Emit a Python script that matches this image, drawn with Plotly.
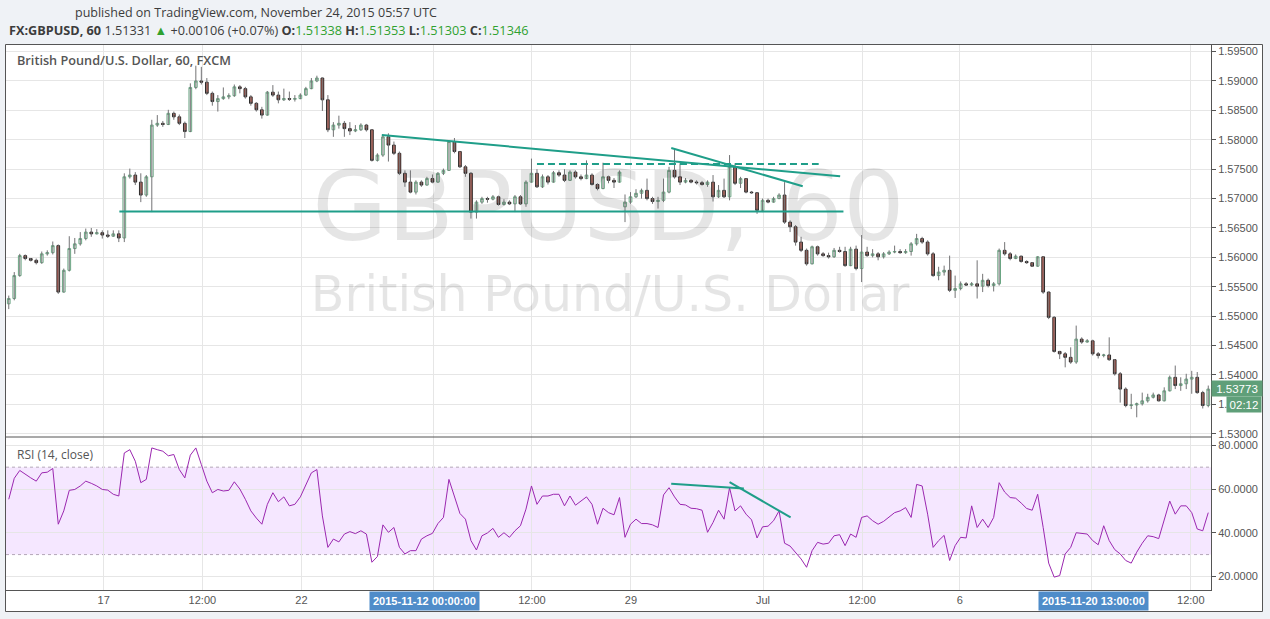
import plotly.graph_objects as go

# ---------------- data (2-hour bars) ----------------
open_px = [1.5521,1.5530,1.5569,1.5603,1.5598,1.5595,1.5591,1.5606,1.5608,1.5620,
1.5541,1.5578,1.5615,1.5623,1.5632,1.5643,1.5640,1.5642,1.5638,1.5636,
1.5640,1.5633,1.5737,1.5740,1.5728,1.5706,1.5737,1.5825,1.5828,1.5826,
1.5845,1.5839,1.5828,1.5814,1.5889,1.5900,1.5898,1.5879,1.5865,1.5870,
1.5873,1.5875,1.5890,1.5887,1.5873,1.5862,1.5851,1.5842,1.5881,1.5876,
1.5868,1.5870,1.5869,1.5870,1.5876,1.5887,1.5900,1.5905,1.5868,1.5817,
1.5825,1.5828,1.5819,1.5815,1.5817,1.5825,1.5817,1.5765,1.5774,1.5805,
1.5791,1.5777,1.5743,1.5728,1.5711,1.5728,1.5723,1.5734,1.5728,1.5743,
1.5748,1.5797,1.5780,1.5754,1.5743,1.5677,1.5694,1.5700,1.5699,1.5703,
1.5690,1.5694,1.5691,1.5703,1.5691,1.5728,1.5743,1.5720,1.5737,1.5728,
1.5744,1.5740,1.5731,1.5745,1.5737,1.5734,1.5740,1.5724,1.5717,1.5737,
1.5731,1.5728,1.5686,1.5694,1.5703,1.5709,1.5714,1.5700,1.5695,1.5697,
1.5711,1.5748,1.5737,1.5728,1.5731,1.5728,1.5727,1.5724,1.5728,1.5703,
1.5714,1.5703,1.5754,1.5726,1.5734,1.5711,1.5710,1.5680,1.5697,1.5694,
1.5700,1.5706,1.5660,1.5652,1.5626,1.5612,1.5589,1.5618,1.5606,1.5603,
1.5601,1.5612,1.5610,1.5586,1.5614,1.5581,1.5609,1.5603,1.5606,1.5601,
1.5606,1.5609,1.5610,1.5608,1.5610,1.5623,1.5632,1.5626,1.5606,1.5569,
1.5575,1.5578,1.5544,1.5547,1.5555,1.5553,1.5555,1.5551,1.5561,1.5552,
1.5555,1.5612,1.5606,1.5598,1.5602,1.5593,1.5591,1.5585,1.5601,1.5541,
1.5498,1.5440,1.5436,1.5430,1.5422,1.5461,1.5456,1.5458,1.5436,1.5433,
1.5434,1.5426,1.5402,1.5376,1.5348,1.5349,1.5351,1.5356,1.5362,1.5366,
1.5356,1.5373,1.5396,1.5382,1.5385,1.5393,1.5396,1.5370,1.5348]

high_px = [1.5535,1.5575,1.5606,1.5605,1.5599,1.5598,1.5610,1.5612,1.5627,1.5622,
1.5581,1.5636,1.5633,1.5643,1.5649,1.5650,1.5648,1.5646,1.5646,1.5646,
1.5646,1.5743,1.5751,1.5745,1.5743,1.5740,1.5834,1.5842,1.5832,1.5851,
1.5848,1.5843,1.5831,1.5896,1.5926,1.5924,1.5905,1.5882,1.5876,1.5889,
1.5879,1.5894,1.5893,1.5890,1.5876,1.5864,1.5856,1.5883,1.5893,1.5882,
1.5887,1.5882,1.5876,1.5879,1.5890,1.5905,1.5909,1.5906,1.5876,1.5830,
1.5841,1.5832,1.5830,1.5825,1.5828,1.5827,1.5818,1.5777,1.5809,1.5811,
1.5797,1.5780,1.5748,1.5748,1.5731,1.5731,1.5737,1.5741,1.5745,1.5751,
1.5799,1.5803,1.5781,1.5757,1.5745,1.5697,1.5703,1.5703,1.5706,1.5705,
1.5699,1.5697,1.5706,1.5706,1.5731,1.5768,1.5750,1.5741,1.5740,1.5747,
1.5748,1.5750,1.5748,1.5748,1.5741,1.5765,1.5743,1.5726,1.5761,1.5739,
1.5735,1.5748,1.5707,1.5711,1.5716,1.5717,1.5734,1.5703,1.5703,1.5734,
1.5754,1.5785,1.5760,1.5735,1.5733,1.5731,1.5730,1.5731,1.5740,1.5723,
1.5734,1.5774,1.5760,1.5737,1.5735,1.5713,1.5711,1.5700,1.5700,1.5703,
1.5709,1.5728,1.5663,1.5655,1.5635,1.5615,1.5620,1.5620,1.5609,1.5608,
1.5616,1.5618,1.5618,1.5618,1.5620,1.5638,1.5618,1.5614,1.5609,1.5609,
1.5612,1.5620,1.5614,1.5614,1.5626,1.5640,1.5635,1.5629,1.5609,1.5584,
1.5586,1.5603,1.5569,1.5559,1.5558,1.5558,1.5595,1.5572,1.5564,1.5558,
1.5615,1.5626,1.5609,1.5605,1.5603,1.5595,1.5592,1.5602,1.5602,1.5542,
1.5500,1.5441,1.5439,1.5447,1.5484,1.5464,1.5461,1.5460,1.5439,1.5436,
1.5464,1.5427,1.5405,1.5379,1.5368,1.5353,1.5370,1.5368,1.5370,1.5368,
1.5379,1.5399,1.5416,1.5396,1.5402,1.5407,1.5405,1.5373,1.5382]

low_px = [1.5512,1.5527,1.5567,1.5595,1.5593,1.5588,1.5589,1.5603,1.5605,1.5538,
1.5540,1.5576,1.5606,1.5620,1.5629,1.5635,1.5639,1.5632,1.5633,1.5635,
1.5626,1.5626,1.5734,1.5723,1.5694,1.5703,1.5677,1.5822,1.5822,1.5825,
1.5834,1.5825,1.5803,1.5813,1.5886,1.5894,1.5876,1.5858,1.5848,1.5868,
1.5869,1.5873,1.5879,1.5870,1.5858,1.5848,1.5836,1.5841,1.5873,1.5862,
1.5866,1.5866,1.5865,1.5869,1.5875,1.5886,1.5898,1.5849,1.5813,1.5805,
1.5819,1.5805,1.5808,1.5813,1.5815,1.5814,1.5763,1.5763,1.5771,1.5763,
1.5774,1.5740,1.5720,1.5709,1.5707,1.5720,1.5722,1.5726,1.5727,1.5740,
1.5747,1.5777,1.5752,1.5737,1.5666,1.5666,1.5691,1.5693,1.5697,1.5688,
1.5688,1.5689,1.5677,1.5689,1.5686,1.5727,1.5718,1.5718,1.5724,1.5727,
1.5737,1.5728,1.5730,1.5734,1.5731,1.5733,1.5722,1.5714,1.5716,1.5726,
1.5718,1.5727,1.5660,1.5691,1.5701,1.5700,1.5697,1.5691,1.5683,1.5694,
1.5709,1.5734,1.5723,1.5726,1.5726,1.5724,1.5722,1.5720,1.5695,1.5701,
1.5701,1.5697,1.5723,1.5718,1.5709,1.5708,1.5674,1.5677,1.5692,1.5693,
1.5699,1.5657,1.5643,1.5620,1.5609,1.5586,1.5588,1.5603,1.5601,1.5598,
1.5599,1.5608,1.5584,1.5585,1.5578,1.5558,1.5601,1.5600,1.5595,1.5598,
1.5604,1.5607,1.5606,1.5606,1.5603,1.5620,1.5623,1.5603,1.5567,1.5561,
1.5569,1.5541,1.5531,1.5544,1.5552,1.5551,1.5530,1.5541,1.5549,1.5542,
1.5552,1.5603,1.5595,1.5597,1.5591,1.5589,1.5584,1.5584,1.5538,1.5495,
1.5438,1.5427,1.5413,1.5419,1.5419,1.5453,1.5455,1.5433,1.5428,1.5430,
1.5424,1.5399,1.5353,1.5345,1.5342,1.5328,1.5348,1.5353,1.5360,1.5355,
1.5355,1.5372,1.5376,1.5373,1.5376,1.5368,1.5368,1.5343,1.5345]

close_px = [1.5530,1.5569,1.5603,1.5598,1.5595,1.5591,1.5606,1.5608,1.5620,1.5541,
1.5578,1.5615,1.5623,1.5632,1.5643,1.5640,1.5642,1.5638,1.5636,1.5640,
1.5633,1.5737,1.5740,1.5728,1.5706,1.5737,1.5825,1.5828,1.5826,1.5845,
1.5839,1.5828,1.5814,1.5889,1.5900,1.5898,1.5879,1.5865,1.5870,1.5873,
1.5875,1.5890,1.5887,1.5873,1.5862,1.5851,1.5842,1.5881,1.5876,1.5868,
1.5870,1.5869,1.5870,1.5876,1.5887,1.5900,1.5905,1.5868,1.5817,1.5825,
1.5828,1.5819,1.5815,1.5817,1.5825,1.5817,1.5765,1.5774,1.5805,1.5791,
1.5777,1.5743,1.5728,1.5711,1.5728,1.5723,1.5734,1.5728,1.5743,1.5748,
1.5797,1.5780,1.5754,1.5743,1.5677,1.5694,1.5700,1.5699,1.5703,1.5690,
1.5694,1.5691,1.5703,1.5691,1.5728,1.5743,1.5720,1.5737,1.5728,1.5744,
1.5740,1.5731,1.5745,1.5737,1.5734,1.5740,1.5724,1.5717,1.5737,1.5731,
1.5728,1.5745,1.5694,1.5703,1.5709,1.5714,1.5700,1.5695,1.5697,1.5711,
1.5748,1.5737,1.5728,1.5731,1.5728,1.5727,1.5724,1.5728,1.5703,1.5714,
1.5703,1.5754,1.5726,1.5734,1.5711,1.5710,1.5680,1.5697,1.5694,1.5700,
1.5706,1.5660,1.5652,1.5626,1.5612,1.5589,1.5618,1.5606,1.5603,1.5601,
1.5612,1.5610,1.5586,1.5614,1.5581,1.5609,1.5603,1.5606,1.5601,1.5606,
1.5609,1.5610,1.5608,1.5610,1.5623,1.5632,1.5626,1.5606,1.5569,1.5575,
1.5578,1.5544,1.5547,1.5555,1.5553,1.5555,1.5551,1.5561,1.5552,1.5555,
1.5612,1.5606,1.5598,1.5602,1.5593,1.5591,1.5585,1.5601,1.5541,1.5498,
1.5440,1.5436,1.5430,1.5422,1.5461,1.5456,1.5458,1.5436,1.5433,1.5434,
1.5426,1.5402,1.5376,1.5348,1.5349,1.5351,1.5356,1.5362,1.5366,1.5356,
1.5373,1.5396,1.5382,1.5385,1.5393,1.5396,1.5370,1.5348,1.5376]

rsi_vals = [55.3,64.9,68.5,66.7,65.1,63.6,67.4,67.7,69.4,43.9,
50.0,59.4,59.8,61.4,63.6,62.6,61.4,59.8,59.5,57.6,
56.8,76.5,78.0,72.7,62.9,64.4,78.8,78.0,77.3,75.2,
75.8,68.9,65.1,75.5,78.8,71.2,63.6,58.3,59.8,59.1,
59.4,63.3,60.0,55.3,50.0,46.7,43.9,53.0,58.3,54.2,
56.4,52.3,53.0,56.4,62.1,67.4,68.9,47.7,33.3,37.1,
35.8,39.4,40.5,39.6,40.9,39.4,26.5,29.1,43.6,40.2,
42.4,33.3,30.3,31.8,31.8,37.1,38.6,39.7,44.2,47.0,
64.4,56.1,48.8,46.2,36.4,32.1,38.6,39.9,42.0,37.9,
40.0,37.9,40.9,43.2,50.8,61.4,53.0,56.8,56.8,57.6,
57.6,52.3,56.8,52.6,54.5,56.4,53.0,43.9,51.2,49.2,
48.2,56.1,37.9,43.9,46.2,44.2,44.2,43.6,42.4,57.3,
60.6,56.4,53.0,52.7,51.2,51.0,50.3,40.2,44.7,50.3,
46.2,60.6,50.0,52.3,48.5,45.9,37.6,42.7,43.0,45.5,
50.0,35.2,33.9,31.1,28.0,24.2,31.8,35.6,34.8,35.2,
38.6,39.1,34.1,39.4,37.9,47.0,47.7,45.5,43.9,45.2,
47.3,49.2,50.0,51.5,47.0,62.1,61.4,48.5,33.3,36.4,
38.8,27.3,34.1,37.9,37.6,52.3,42.4,46.2,42.4,47.0,
62.9,58.6,56.1,55.8,53.6,51.1,50.3,57.6,42.4,26.1,
19.7,20.4,30.3,33.3,40.0,39.7,39.4,36.4,34.5,43.2,
36.4,32.3,30.3,27.3,26.1,31.1,35.2,38.6,38.2,37.3,
45.5,54.5,48.5,52.3,52.3,49.2,41.7,40.9,49.2]

# user-drawn lines: (bar index, value) pairs
support_bar = [20.1, 151.7];  support_val = [1.5678, 1.5678]
trend_bar = [67.8, 151.1];    trend_val = [1.5808, 1.5738]
resist_bar = [96.0, 147.2];   resist_val = [1.5759, 1.5759]
trend2_bar = [120.4, 144.3];  trend2_val = [1.5786, 1.5721]
rsi_line1_bar = [120.4, 133.6]; rsi_line1_val = [62.4, 60.2]
rsi_line2_bar = [131.0, 142.1]; rsi_line2_val = [63.2, 47.0]

time_tick_pos = [17.26, 35.19, 53.19, 77.19, 95.08, 113.08, 137.08, 155.08, 172.83, 196.83, 214.83]
time_tick_text = ['17', '12:00', '22', '', '12:00', '29', 'Jul', '12:00', '6', '', '12:00']
rsi_ticks = [20, 40, 60, 80]

# ---------------- geometry helpers ----------------
W, H = 1270, 619
ML, MR, MT, MB = 6, 59, 45, 29
PW = W - ML - MR
PH = H - MT - MB
SPLIT = (590 - 437) / PH


def px(x):
    return (x - ML) / PW


def py(y):
    return (H - MB - y) / PH


n = len(close_px)
bars = list(range(n))

fig = go.Figure()

# watermark (drawn first so it sits beneath the candles)
fig.add_trace(go.Scatter(x=[109.0], y=[1.5671], mode='text', text=['GBPUSD, 60'],
                         textposition='middle center',
                         textfont=dict(family='DejaVu Sans', size=97, color='rgba(0,0,0,0.10)'),
                         hoverinfo='skip', showlegend=False))
fig.add_trace(go.Scatter(x=[109.3], y=[1.5529], mode='text', text=['British Pound/U.S. Dollar'],
                         textposition='middle center',
                         textfont=dict(family='DejaVu Sans', size=49, color='rgba(0,0,0,0.10)'),
                         hoverinfo='skip', showlegend=False))

# wicks
wx, wy = [], []
for i in range(n):
    wx += [i, i, None]
    wy += [low_px[i], high_px[i], None]
fig.add_trace(go.Scatter(x=wx, y=wy, mode='lines', line=dict(color='#737375', width=1),
                         hoverinfo='skip', showlegend=False))

body_hi = [max(o, c) for o, c in zip(open_px, close_px)]
body_lo = [min(o, c) for o, c in zip(open_px, close_px)]
fig.add_trace(go.Candlestick(x=bars, open=open_px, high=body_hi, low=body_lo, close=close_px,
                             increasing=dict(line=dict(color='#6ba583', width=1), fillcolor='#ffffff'),
                             decreasing=dict(line=dict(color='#2b2b2b', width=1), fillcolor='#d75442'),
                             whiskerwidth=0, hoverinfo='skip', showlegend=False))

teal = '#1f9e89'
for bx, by, dash in [(support_bar, support_val, 'solid'), (trend_bar, trend_val, 'solid'),
                     (resist_bar, resist_val, '7px,4px'), (trend2_bar, trend2_val, 'solid')]:
    fig.add_trace(go.Scatter(x=bx, y=by, mode='lines', line=dict(color=teal, width=2, dash=dash),
                             hoverinfo='skip', showlegend=False))

# RSI
fig.add_trace(go.Scatter(x=bars, y=rsi_vals, yaxis='y2', mode='lines',
                         line=dict(color='#9b27b0', width=1), hoverinfo='skip', showlegend=False))
for bx, by in [(rsi_line1_bar, rsi_line1_val), (rsi_line2_bar, rsi_line2_val)]:
    fig.add_trace(go.Scatter(x=bx, y=by, yaxis='y2', mode='lines', line=dict(color=teal, width=2),
                             hoverinfo='skip', showlegend=False))

axis_font = dict(family='Liberation Sans, Arial', size=11, color='#555555')
grid = '#e6e6e6'

fig.update_layout(
    width=W, height=H, margin=dict(l=ML, r=MR, t=MT, b=MB, pad=0),
    paper_bgcolor='#eff2f6', plot_bgcolor='#ffffff', showlegend=False,
    xaxis=dict(range=[-0.5, n - 0.5], anchor='y2', tickmode='array', tickvals=time_tick_pos,
               ticktext=time_tick_text, showgrid=True, gridcolor=grid, gridwidth=1, ticks='',
               showline=True, linecolor='#555555', linewidth=1, zeroline=False,
               tickfont=dict(family='Liberation Sans, Arial', size=11, color='#555555'),
               rangeslider=dict(visible=False)),
    yaxis=dict(domain=[SPLIT, 1], range=[1.52945, 1.59612], side='right', anchor='x',
               tick0=1.53, dtick=0.005, tickformat='.5f', ticks='outside', ticklen=4,
               tickcolor='#555555', showline=True, linecolor='#555555', linewidth=1,
               gridcolor=grid, zeroline=False, tickfont=axis_font),
    yaxis2=dict(domain=[0, SPLIT], range=[13.8, 83.8], side='right', anchor='x',
                tickmode='array', tickvals=rsi_ticks, tickformat='.4f', ticks='outside', ticklen=4,
                tickcolor='#555555', showline=True, linecolor='#555555', linewidth=1,
                gridcolor=grid, zeroline=False, tickfont=axis_font),
)

shapes = [
    # chart card background
    dict(type='rect', xref='paper', yref='paper', x0=px(5.5), x1=px(1262.5), y0=py(611.5), y1=py(44.5),
         fillcolor='#ffffff', line=dict(width=0), layer='below'),
    # RSI band
    dict(type='rect', xref='paper', yref='y2', x0=0, x1=1, y0=30, y1=70,
         fillcolor='rgba(153,21,255,0.10)', line=dict(width=0), layer='below'),
    dict(type='line', xref='paper', yref='y2', x0=0, x1=1, y0=70, y1=70,
         line=dict(color='#b3a7b8', width=1, dash='3px,3px'), layer='below'),
    dict(type='line', xref='paper', yref='y2', x0=0, x1=1, y0=30, y1=30,
         line=dict(color='#b3a7b8', width=1, dash='3px,3px'), layer='below'),
    # pane separator
    dict(type='line', xref='paper', yref='paper', x0=0, x1=1, y0=SPLIT, y1=SPLIT,
         line=dict(color='#555555', width=1)),
    # card border
    dict(type='rect', xref='paper', yref='paper', x0=px(5.5), x1=px(1262.5), y0=py(611.5), y1=py(44.5),
         line=dict(color='#555555', width=1), fillcolor='rgba(0,0,0,0)'),
]
fig.update_layout(shapes=shapes)

green = '#2fa12f'
header2 = ("<b>FX:GBPUSD, 60</b> 1.51331 <span style='color:%s'>▲</span> +0.00106 (+0.07%%) "
           "<b>O:</b><span style='color:%s'>1.51338</span> <b>H:</b><span style='color:%s'>1.51353</span> "
           "<b>L:</b><span style='color:%s'>1.51303</span> <b>C:</b><span style='color:%s'>1.51346</span>"
           % (green, green, green, green, green))

ann = [
    dict(x=px(255.5), y=py(12), text='published on TradingView.com, November 24, 2015 05:57 UTC',
         xanchor='center', yanchor='middle', font=dict(family='Open Sans', size=12.5, color='#3c3c3c')),
    dict(x=px(7), y=py(30), text=header2, xanchor='left', yanchor='middle',
         font=dict(family='Open Sans', size=12.7, color='#3c3c3c')),
    dict(x=px(15), y=py(60), text='British Pound/U.S. Dollar, 60, FXCM', xanchor='left', yanchor='middle',
         font=dict(family='Open Sans', size=12.7, color='#555555', weight=600)),
    dict(x=px(15), y=py(455), text='RSI (14, close)', xanchor='left', yanchor='middle',
         font=dict(family='Open Sans', size=12, color='#555555')),
    dict(x=px(424), y=py(601), text='<b>2015-11-12 00:00:00</b>', xanchor='center', yanchor='middle',
         bgcolor='#4f8cc9', borderpad=3,
         font=dict(family='Liberation Sans, Arial', size=11, color='#ffffff')),
    dict(x=px(1093), y=py(601), text='<b>2015-11-20 13:00:00</b>', xanchor='center', yanchor='middle',
         bgcolor='#4f8cc9', borderpad=3,
         font=dict(family='Liberation Sans, Arial', size=11, color='#ffffff')),
    dict(x=px(1236.5), y=py(388), text='1.53773', xanchor='center', yanchor='middle',
         bgcolor='#5f9f79', width=48, height=13, borderpad=1,
         font=dict(family='Liberation Sans, Arial', size=11.5, color='#ffffff')),
    dict(x=px(1244.5), y=py(404.5), text='02:12', xanchor='center', yanchor='middle',
         bgcolor='#5f9f79', width=32, height=13, borderpad=1,
         font=dict(family='Liberation Sans, Arial', size=11.5, color='#ffffff')),
]
for a in ann:
    a.setdefault('xref', 'paper')
    a.setdefault('yref', 'paper')
    a.setdefault('showarrow', False)
fig.update_layout(annotations=ann)

fig.write_html('out.html', config={'displayModeBar': False},
               post_script="document.body.style.margin='0';")
